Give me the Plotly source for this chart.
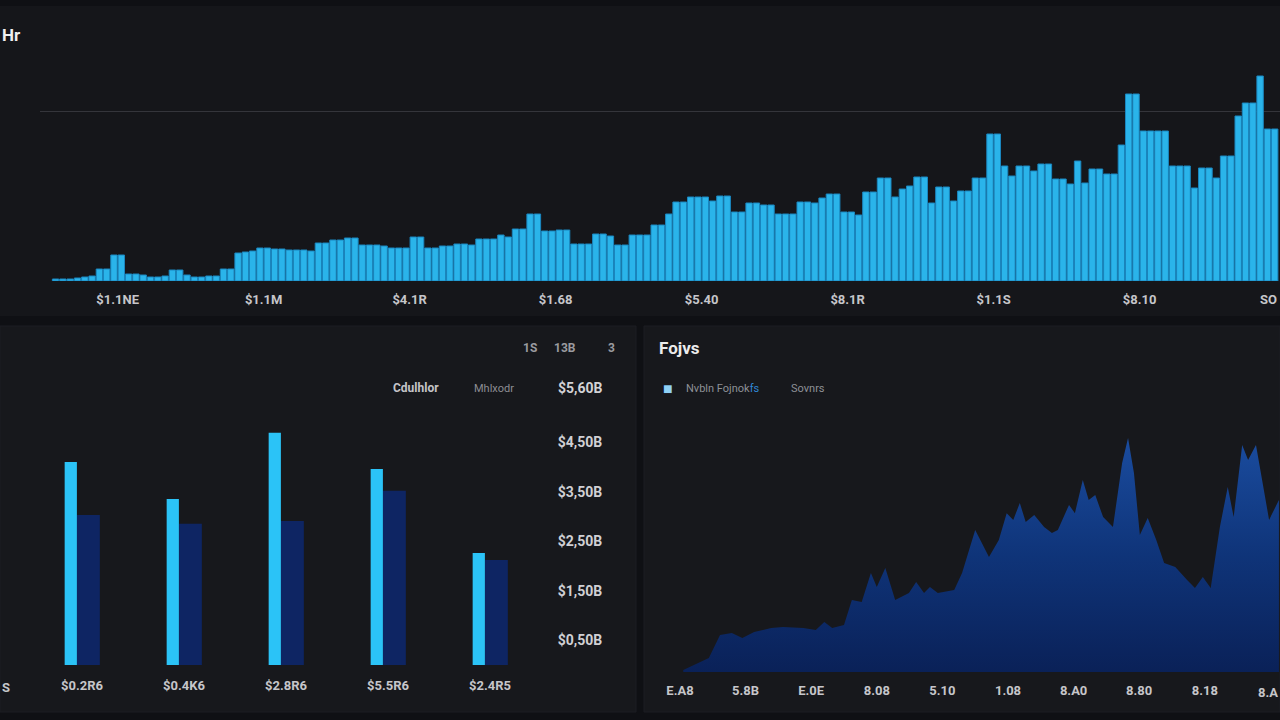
import plotly.graph_objects as go

# ---------------- data ----------------
# top panel: daily values (bar heights)
top_values = [2, 2, 2, 3, 4, 5, 12, 12, 26, 26, 7, 7, 6, 4, 4, 5, 11, 11, 6, 4,
              4, 5, 5, 12, 12, 28, 29, 30, 33, 33, 32, 32, 31, 31, 31, 30, 38, 38, 41, 41,
              43, 43, 36, 36, 36, 35, 33, 33, 33, 44, 44, 33, 33, 35, 35, 37, 37, 36, 42, 42,
              42, 46, 44, 52, 52, 67, 67, 50, 50, 51, 51, 37, 37, 37, 47, 47, 45, 36, 36, 46,
              46, 46, 56, 56, 67, 79, 79, 84, 84, 84, 80, 85, 85, 69, 69, 78, 78, 76, 76, 67,
              67, 67, 79, 79, 78, 83, 87, 87, 69, 69, 66, 89, 89, 103, 103, 84, 92, 95, 104, 104,
              78, 94, 94, 80, 90, 90, 103, 103, 147, 147, 115, 105, 115, 115, 110, 117, 117, 102, 102, 97,
              120, 98, 112, 112, 107, 107, 136, 187, 187, 150, 150, 150, 150, 115, 115, 115, 93, 113, 113, 103,
              125, 125, 165, 178, 178, 205, 152, 152]
top_tick_pos = [8.5, 28.5, 48.5, 68.5, 88.5, 108.5, 128.5, 148.5]
top_tick_text = ["$1.1NE", "$1.1M", "$4.1R", "$1.68", "$5.40", "$8.1R", "$1.1S", "$8.10"]
top_ref_line = 170

# bottom-left panel: grouped bars
bl_categories = [1, 2, 3, 4, 5]
bl_cat_labels = ["$0.2R6", "$0.4K6", "$2.8R6", "$5.5R6", "$2.4R5"]
bl_light = [4.10, 3.35, 4.69, 3.96, 2.26]
bl_dark = [3.03, 2.85, 2.91, 3.52, 2.12]
bl_ytick_vals = [0.5, 1.5, 2.5, 3.5, 4.5]
bl_ytick_text = ["$0,50B", "$1,50B", "$2,50B", "$3,50B", "$4,50B"]

# bottom-right panel: area series
br_x = [0.05, 0.44, 0.61, 0.79, 0.95, 1.13, 1.39, 1.57, 1.88, 2.07, 2.20, 2.32, 2.50, 2.62,
        2.77, 2.91, 3.00, 3.13, 3.28, 3.49, 3.60, 3.72, 3.81, 3.93, 4.18, 4.30, 4.50, 4.71,
        4.86, 4.98, 5.08, 5.18, 5.27, 5.40, 5.55, 5.67, 5.76, 5.93, 6.02, 6.14, 6.23, 6.33,
        6.45, 6.60, 6.74, 6.83, 6.92, 7.01, 7.13, 7.26, 7.38, 7.55, 7.73, 7.85, 7.97, 8.09,
        8.23, 8.35, 8.44, 8.57, 8.66, 8.78, 8.98, 9.13]
br_y = [0.09, 0.60, 1.58, 1.67, 1.45, 1.71, 1.88, 1.92, 1.88, 1.79, 2.14, 1.88, 2.01, 3.08,
        2.99, 4.23, 3.63, 4.44, 3.08, 3.38, 3.85, 3.38, 3.63, 3.38, 3.50, 4.23, 6.07, 4.91,
        5.64, 6.79, 6.50, 7.22, 6.41, 6.71, 6.20, 5.94, 6.07, 7.14, 6.79, 8.21, 7.35, 7.56,
        6.62, 6.20, 8.93, 10.0, 8.50, 5.85, 6.58, 5.64, 4.66, 4.49, 3.93, 3.59, 4.06, 3.59,
        6.20, 7.91, 6.62, 9.70, 9.06, 9.70, 6.50, 7.35]
br_tick_vals = [0, 1, 2, 3, 4, 5, 6, 7, 8]
br_tick_text = ["E.A8", "5.8B", "E.0E", "8.08", "5.10", "1.08", "8.A0", "8.80", "8.18"]

# ---------------- styling ----------------
W, H = 1280, 720
BG = "#0f1014"
PANEL = "#15161a"
LABEL = "#c6c6ca"
FONT = "Roboto"


def px(x, y):
    return x / W, 1 - y / H


fig = go.Figure()

# top bars
fig.add_trace(go.Bar(
    x=list(range(len(top_values))), y=top_values,
    marker=dict(color="#2ab4ea", line=dict(color="#1a86bf", width=1)),
    xaxis="x", yaxis="y", showlegend=False,
))

# bottom-left grouped bars
fig.add_trace(go.Bar(
    x=bl_categories, y=bl_dark, width=0.225, offset=-0.05,
    marker=dict(color="#0e2563", line=dict(width=0)),
    xaxis="x2", yaxis="y2", showlegend=False,
))
fig.add_trace(go.Bar(
    x=bl_categories, y=bl_light, width=0.12, offset=-0.17,
    marker=dict(color="#2bc3f7", line=dict(width=0)),
    xaxis="x2", yaxis="y2", showlegend=False,
))

# bottom-right area
fig.add_trace(go.Scatter(
    x=br_x, y=br_y, mode="none", fill="tozeroy",
    fillgradient=dict(type="vertical",
                      colorscale=[[0, "#0a2158"], [0.5, "#0f3479"], [1, "#1a4c9f"]]),
    xaxis="x3", yaxis="y3", showlegend=False,
))

tickfont = dict(family=FONT, size=13, color=LABEL, weight="bold")

# panel backgrounds
shapes = [
    dict(type="rect", xref="paper", yref="paper", x0=0, x1=1, y0=px(0, 316)[1], y1=px(0, 6)[1],
         fillcolor=PANEL, line=dict(width=0), layer="below"),
    dict(type="rect", xref="paper", yref="paper", x0=0, x1=px(636, 0)[0],
         y0=px(0, 712)[1], y1=px(0, 326)[1],
         fillcolor="#17181c", line=dict(color="#1c1d22", width=1), layer="below"),
    dict(type="rect", xref="paper", yref="paper", x0=px(644, 0)[0], x1=1,
         y0=px(0, 712)[1], y1=px(0, 326)[1],
         fillcolor="#17181c", line=dict(color="#1c1d22", width=1), layer="below"),
]

ann = []


def add_text(text, x, y, size=13, color=LABEL, anchor="left", bold=True):
    ax, ay = px(x, y)
    ann.append(dict(text=text, x=ax, y=ay, xref="paper", yref="paper",
                    xanchor=anchor, yanchor="middle", showarrow=False,
                    font=dict(family=FONT, size=size, color=color,
                              weight="bold" if bold else "normal")))


add_text("Hr", 0, 35, size=17, color="#f0f0f0")
add_text("SO", 1258, 299, size=13)
add_text("8.A", 1256, 692, size=13)
# bottom-left header rows
add_text("1S", 521, 348, size=12, color="#9b9ba0")
add_text("13B", 552, 348, size=12, color="#9b9ba0")
add_text("3", 606, 348, size=12, color="#9b9ba0")
add_text("Cdulhlor", 391, 388, size=12, color="#c4c4c8")
add_text("Mhlxodr", 472, 388, size=11, color="#8d8d93", bold=False)
add_text("$5,60B", 556, 388, size=14, color="#d2d2d6")
add_text("S", 0, 687, size=13)
# bottom-right header
add_text("Fojvs", 657, 348, size=17, color="#ececec")
add_text("■", 661, 388, size=16, color="#8fd0f5")
add_text("Nvbln Fojnok<span style='color:#2f86d6'>fs</span>", 684, 388, size=11,
         color="#8d9096", bold=False)
add_text("Sovnrs", 789, 388, size=11, color="#8d9096", bold=False)

fig.update_layout(
    width=W, height=H, margin=dict(l=0, r=0, t=0, b=0),
    paper_bgcolor=BG, plot_bgcolor="rgba(0,0,0,0)",
    barmode="overlay", bargap=0.12,
    shapes=shapes, annotations=ann,
    xaxis=dict(domain=[40 / W, 1], range=[(40 - 55.6) / 7.3, (1280 - 55.6) / 7.3],
               tickvals=top_tick_pos, ticktext=top_tick_text, tickfont=tickfont,
               ticks="outside", ticklen=6, tickcolor="rgba(0,0,0,0)",
               showgrid=False, zeroline=False, showline=False),
    yaxis=dict(domain=[1 - 281 / H, 1 - 35 / H], range=[0, 246],
               tickvals=[top_ref_line], showticklabels=False, ticks="",
               showgrid=True, gridcolor="#34353b", gridwidth=1, zeroline=False),
    xaxis2=dict(domain=[0, 550 / W], range=[1 - 82 / 102, 1 + (550 - 82) / 102],
                tickvals=bl_categories, ticktext=bl_cat_labels, tickfont=tickfont,
                ticks="outside", ticklen=8, tickcolor="rgba(0,0,0,0)",
                showgrid=False, zeroline=False, showline=False, anchor="y2"),
    yaxis2=dict(domain=[1 - 665 / H, 1 - 405 / H], range=[0, 5.25], side="right",
                anchor="x2", tickvals=bl_ytick_vals, ticktext=bl_ytick_text,
                tickfont=dict(family=FONT, size=14, color="#d0d0d4", weight="bold"),
                ticks="outside", ticklen=4, tickcolor="rgba(0,0,0,0)",
                showgrid=False, zeroline=False),
    xaxis3=dict(domain=[653 / W, 1], range=[(653 - 680) / 65.6, (1280 - 680) / 65.6],
                tickvals=br_tick_vals, ticktext=br_tick_text, tickfont=tickfont,
                ticks="outside", ticklen=6, tickcolor="rgba(0,0,0,0)",
                showgrid=False, zeroline=False, showline=False, anchor="y3"),
    yaxis3=dict(domain=[1 - 672 / H, 1 - 420 / H], range=[0, 10.77], anchor="x3",
                visible=False),
)

fig.write_html(
    "out.html",
    config={"displayModeBar": False},
    post_script="document.body.style.margin='0';document.body.style.padding='0';"
                "document.body.style.background='#0f1014';",
)
